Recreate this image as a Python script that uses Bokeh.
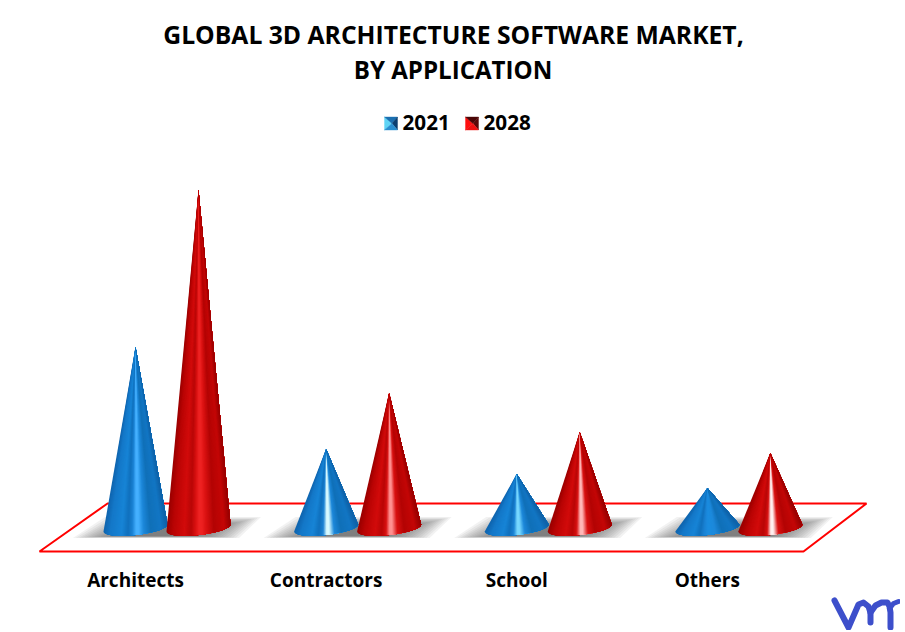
from bokeh.core.properties import value
from bokeh.embed import file_html
from bokeh.models import ColumnDataSource, Range1d
from bokeh.plotting import figure
from bokeh.resources import INLINE
import numpy as np

# values (no axis in the chart, so nominal units)
categories = ["Architects", "Contractors", "School", "Others"]
years = ["2021", "2028"]
values_2021 = [181, 79, 54, 40]
values_2028 = [338, 135, 96, 75]
title_lines = ["GLOBAL 3D ARCHITECTURE SOFTWARE MARKET,", "BY APPLICATION"]

# how bright the streak on each cone is
highlight_2021 = ["#45b0ff", "#d8faff", "#78d8ff", "#1b8cdf"]
highlight_2028 = ["#ee2222", "#ff9090", "#ffb8b8", "#fff0f0"]

WIDTH = 900
HEIGHT = 630
BASE_PX = 527.5      # page y of the cone bases
GROUP0_PX = 166.5    # page x of the first group
GROUP_STEP = 190.6   # pixels per category
CONE_OFFSET = 31.5 / GROUP_STEP
CONE_R = 32 / GROUP_STEP
FONT = value("Open Sans")


def gx(px):
    return (px - GROUP0_PX) / GROUP_STEP


def gy(py):
    return BASE_PX - py


def hex_rgb(c):
    return [int(c[i:i + 2], 16) for i in (1, 3, 5)]


def shade(stops, s):
    pos = [a for a, _ in stops]
    rgb = np.array([hex_rgb(c) for _, c in stops], dtype=float)
    vals = [np.interp(s, pos, rgb[:, k]) for k in range(3)]
    return "#%02x%02x%02x" % tuple(int(round(v)) for v in vals)


def cone(cx, height, stops, xs, ys, colors, n=56):
    # each slice runs from its left edge to the far right of the rim and the next
    # one paints over it, so there are no seams between slices
    edges = np.linspace(-1, 1, n + 1)
    for a, b in zip(edges[:-1], edges[1:]):
        ang = np.linspace(np.arcsin(a), np.pi / 2, 24)
        rim_x = cx + CONE_R * np.sin(ang)
        # base rim is a slightly tilted ellipse
        rim_y = 3.5 * np.sin(ang) - 7 * np.cos(ang)
        xs.append([cx] + list(rim_x))
        ys.append([height] + list(rim_y))
        colors.append(shade(stops, (a + b + 2) / 4))


def blue_stops(hi):
    return [(0, "#0e64ae"), (0.1, "#1478c8"), (0.28, "#1784d6"), (0.38, "#1070bd"),
            (0.45, "#1a82d4"), (0.51, hi), (0.55, hi), (0.63, "#1c88da"), (0.74, "#1070b8"),
            (0.9, "#1276c4"), (1, "#0e60a6")]


def red_stops(hi):
    return [(0, "#9a0000"), (0.1, "#b90404"), (0.28, "#d20b0b"), (0.38, "#b80606"),
            (0.45, "#d81010"), (0.51, hi), (0.55, hi), (0.63, "#d81010"), (0.74, "#b30404"),
            (0.9, "#c40606"), (1, "#950000")]


p = figure(width=WIDTH, height=HEIGHT, output_backend="svg", toolbar_location=None,
           x_range=Range1d(gx(0), gx(WIDTH)), y_range=Range1d(gy(HEIGHT), gy(0)),
           min_border=0, outline_line_color=None)
p.axis.visible = False
p.grid.visible = False

# red floor
p.patch([gx(107), gx(866), gx(803), gx(39)], [gy(503), gy(503), gy(551), gy(551)],
        fill_color=None, line_color="#ff0000", line_width=2)

# soft shadow under each group, stacked translucent slabs
for i in range(len(categories)):
    for k in range(16):
        sx = k * 3.0
        sy = k * 0.7
        p.patch([i + (-62 + sx) / GROUP_STEP, i + (94 - sx) / GROUP_STEP,
                 i + (72 - sx) / GROUP_STEP, i + (-94 + sx) / GROUP_STEP],
                [11 - sy, 11 - sy, -10 + sy * 0.2, -10 + sy * 0.2],
                fill_color="#555555", fill_alpha=0.075, line_color=None)

# cones
xs, ys, colors = [], [], []
for i in range(len(categories)):
    cone(i - CONE_OFFSET, values_2021[i], blue_stops(highlight_2021[i]), xs, ys, colors)
for i in range(len(categories)):
    cone(i + CONE_OFFSET, values_2028[i], red_stops(highlight_2028[i]), xs, ys, colors)
src = ColumnDataSource(dict(xs=xs, ys=ys, color=colors))
p.patches("xs", "ys", source=src, fill_color="color", line_color=None)

# category labels
label_x = [i - CONE_OFFSET for i in range(len(categories))]
p.text(label_x, [gy(579)] * len(categories), text=categories, text_font=FONT,
       text_font_style="bold", text_font_size="19px", text_align="center",
       text_baseline="middle", text_color="#000000")

# title
p.text([gx(453)], [gy(34)], text=title_lines[:1], text_font=FONT,
       text_font_style="bold", text_font_size="24.7px", text_align="center",
       text_baseline="middle", text_color="#000000")
p.text([gx(452.5)], [gy(69)], text=title_lines[1:], text_font=FONT,
       text_font_style="bold", text_font_size="24.1px", text_align="center",
       text_baseline="middle", text_color="#000000")

# legend, small pyramids plus text
legend_px = [390.5, 471.5]
legend_faces = [["#5fd4f5", "#1b6fb0", "#0c3f70", "#2a8fd0"],
                ["#ff1010", "#4a0505", "#5a0808", "#f01010"]]
for cx, faces in zip(legend_px, legend_faces):
    r = 6.5
    corners = [(cx - r, 123 - r), (cx + r, 123 - r), (cx + r, 123 + r), (cx - r, 123 + r)]
    order = [(3, 0), (0, 1), (1, 2), (2, 3)]
    for (a, b), col in zip(order, faces):
        p.patch([gx(corners[a][0]), gx(corners[b][0]), gx(cx + 1)],
                [gy(corners[a][1]), gy(corners[b][1]), gy(123)],
                fill_color=col, line_color=col, line_width=0.4)
p.text([gx(402), gx(483)], [gy(122), gy(122)], text=years, text_font=FONT,
       text_font_style="bold", text_font_size="20.7px", text_align="left",
       text_baseline="middle", text_color="#000000")

# logo
logo_x = [834, 848, 858, 863, 868, 870, 870]
logo_y = [600, 627, 604, 602, 606, 612, 622]
p.line([gx(v) for v in logo_x], [gy(v) for v in logo_y], line_color="#3d4fcb", line_width=6,
       line_join="round", line_cap="round")
logo2_x = [870, 875, 881, 887, 889, 890, 890, 890]
logo2_y = [612, 605, 602, 602, 606, 612, 620, 627]
p.line([gx(v) for v in logo2_x], [gy(v) for v in logo2_y], line_color="#3d4fcb", line_width=6,
       line_join="round", line_cap="round")
p.line([gx(889), gx(893), gx(898)], [gy(608), gy(603), gy(601)], line_color="#3d4fcb", line_width=5,
       line_join="round", line_cap="round")

open("out.html", "w").write(file_html(p, INLINE))
